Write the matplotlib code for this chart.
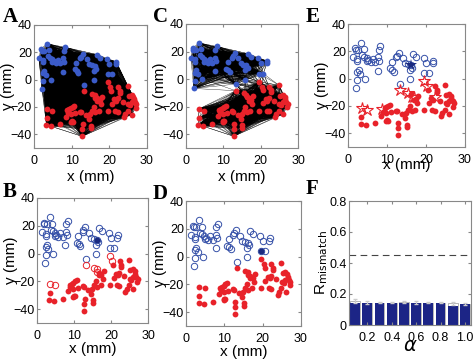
import numpy as np
import matplotlib
matplotlib.use("Agg")
import matplotlib.pyplot as plt
from matplotlib.collections import LineCollection

plt.rcParams['font.family'] = ['Liberation Sans', 'DejaVu Sans']

# electrode positions (mm)
blue_x = [3.4, 1.8, 2.6, 4.1, 8.3, 7.9, 1.3, 2.3, 2.4, 3.7, 4.2, 4.8, 5.2, 4.9, 7.0, 7.8,
          8.0, 2.7, 2.4, 3.1, 7.7, 2.4, 4.4, 2.1, 13.1, 12.5, 12.3, 11.2, 16.7, 17.5, 14.6,
          15.3, 16.1, 15.9, 11.3, 11.7, 19.4, 20.0, 21.8, 21.7, 15.9, 13.3, 19.6, 20.7,
          2.0, 6.3, 10.8, 14.0, 16.5, 5.8]
blue_y = [26.3, 22.3, 21.1, 21.5, 23.7, 21.1, 15.5, 14.3, 12.7, 17.2, 16.0, 14.8, 13.6,
          12.7, 11.9, 15.5, 13.1, 6.4, 4.7, 3.5, 5.9, -1.2, 0.0, -6.8, 19.1, 16.7, 15.5,
          12.4, 18.4, 16.0, 11.5, 10.5, 10.0, 6.4, 6.7, 5.2, 15.1, 11.5, 13.1, 11.5, -0.5,
          -3.6, 4.0, 4.0, 21.0, 14.5, 7.5, 15.0, 8.0, 12.0]
red_x = [3.5, 4.9, 3.4, 3.3, 4.6, 7.0, 8.8, 9.4, 9.8, 10.3, 10.7, 9.0, 9.8, 10.3, 9.8,
         12.6, 12.3, 13.3, 12.9, 12.8, 12.8, 14.6, 15.0, 15.0, 14.9, 15.5, 15.9, 15.5, 16.1,
         16.3, 16.8, 17.4, 16.8, 17.2, 16.3, 19.6, 20.3, 20.5, 22.3, 22.7, 22.7, 21.3, 21.8,
         22.2, 20.7, 19.6, 21.6, 22.2, 24.9, 25.2, 25.9, 26.4, 26.5, 25.0, 25.5, 25.9, 26.8,
         27.2, 27.0, 24.9, 24.2, 23.9, 11.0, 8.5, 13.8, 18.0, 23.5, 26.0, 17.8, 10.0]
red_y = [-21.6, -22.8, -28.3, -33.1, -34.1, -32.4, -22.4, -21.6, -20.9, -20.0, -19.3,
         -24.1, -25.2, -30.7, -31.2, -24.0, -23.3, -8.4, -32.4, -36.0, -41.5, -28.8, -33.6,
         -35.3, -25.2, -22.8, -20.0, -10.4, -11.3, -13.2, -13.7, -15.2, -15.6, -22.8,
         -24.0, -2.0, -5.6, -8.0, -5.6, -8.0, -9.6, -14.4, -15.6, -13.7, -17.6, -22.8,
         -22.8, -23.3, -4.4, -12.0, -11.3, -12.7, -14.4, -18.0, -18.7, -16.7, -16.7, -18.0,
         -20.4, -22.8, -25.2, -27.6, -24.5, -27.0, -26.0, -12.5, -16.0, -25.5, -18.0, -30.5]

# B: red electrodes drawn open (misassigned) and the highlighted blue one
b_open_red = [0, 1, 17, 27, 28, 29, 35, 36]
b_dark_blue = [32]
# D: highlighted blue electrode
d_dark_blue = [42]
# E: red electrodes marked with stars, and the blue star
e_star_red = [0, 1, 6, 17, 27, 29, 30, 35, 36, 43]
e_star_blue = [32]

alpha = [0.1, 0.2, 0.3, 0.4, 0.5, 0.6, 0.7, 0.8, 0.9, 1.0]
r_mismatch = [0.14, 0.145, 0.145, 0.145, 0.14, 0.14, 0.145, 0.145, 0.12, 0.135]
r_mismatch_ref = [0.155, 0.145, 0.145, 0.145, 0.15, 0.145, 0.145, 0.145, 0.14, 0.135]
r_err = [0.01, 0.007, 0.006, 0.006, 0.008, 0.007, 0.006, 0.006, 0.01, 0.006]
r_chance = 0.45

BLUE = "#3b5bc8"
BLUE_EDGE = "#3550a8"
DARK = "#1a2a80"
RED = "#e8222a"
NAVY = "#1c2586"
GREY = "#888888"

W, H = 474, 359
fig = plt.figure(figsize=(W / 100, H / 100), dpi=100)


def add_ax(l, r, t, b):
    return fig.add_axes([l / W, 1 - b / H, (r - l) / W, (b - t) / H])


def frame(ax):
    ax.tick_params(direction="in", top=True, right=True, labelsize=9,
                   length=2.5, color=GREY)
    ax.tick_params(axis="x", pad=5)
    ax.tick_params(axis="y", pad=1.5)
    for s in ax.spines.values():
        s.set_color(GREY)
        s.set_linewidth(0.8)


def style_xy(ax, xlabel_pad=2):
    ax.set_xlim(0, 30)
    ax.set_ylim(-50, 40)
    ax.set_xticks([0, 10, 20, 30])
    ax.set_yticks([-40, -20, 0, 20, 40])
    ax.set_yticklabels(["\u221240", "\u221220", "0", "20", "40"])
    frame(ax)
    ax.set_xlabel("x (mm)", fontsize=11, labelpad=xlabel_pad)
    ax.set_ylabel("y (mm)", fontsize=11, labelpad=-3)


bx, by = np.array(blue_x), np.array(blue_y)
rx, ry = np.array(red_x), np.array(red_y)
pts = np.column_stack([np.concatenate([bx, rx]), np.concatenate([by, ry])])
grp = np.array([0] * len(bx) + [1] * len(rx))


def edges(keep):
    segs = []
    for i in range(len(pts)):
        for j in range(i + 1, len(pts)):
            if keep(i, j):
                segs.append([pts[i], pts[j]])
    return segs


ms = 4.2
mso = 4.6


def filled(ax, x, y, c):
    ax.plot(x, y, "o", color=c, ms=ms, mew=0)


def hollow(ax, x, y, c):
    ax.plot(x, y, "o", mfc="none", mec=c, ms=mso, mew=0.7)


# A: full graph
axA = add_ax(34, 147, 25, 148)
axA.add_collection(LineCollection(edges(lambda i, j: True), colors="black", linewidths=0.25))
filled(axA, bx, by, BLUE)
filled(axA, rx, ry, RED)
style_xy(axA)

# C: graph after clustering
axC = add_ax(186, 298, 24, 148)


def keepC(i, j):
    if grp[i] == grp[j]:
        return True
    return np.hypot(*(pts[i] - pts[j])) < 13


axC.add_collection(LineCollection(edges(keepC), colors="black", linewidths=0.25))
filled(axC, bx, by, BLUE)
filled(axC, rx, ry, RED)
style_xy(axC)

# E: stars
axE = add_ax(348, 465, 24, 147)
hollow(axE, bx, by, BLUE_EDGE)
keep = np.ones(len(rx), bool)
keep[e_star_red] = False
filled(axE, rx[keep], ry[keep], RED)
axE.plot(rx[e_star_red], ry[e_star_red], "*", mfc="none", mec=RED, ms=9, mew=0.8)
axE.plot(bx[e_star_blue], by[e_star_blue], "*", color=DARK, ms=9, mew=0)
style_xy(axE, xlabel_pad=-6)

# B
axB = add_ax(37, 148, 198, 323)
hollow(axB, bx, by, BLUE_EDGE)
filled(axB, bx[b_dark_blue], by[b_dark_blue], DARK)
keep = np.ones(len(rx), bool)
keep[b_open_red] = False
filled(axB, rx[keep], ry[keep], RED)
hollow(axB, rx[b_open_red], ry[b_open_red], RED)
style_xy(axB, xlabel_pad=0)

# D
axD = add_ax(186, 301, 201, 326)
hollow(axD, bx, by, BLUE_EDGE)
filled(axD, bx[d_dark_blue], by[d_dark_blue], DARK)
filled(axD, rx, ry, RED)
style_xy(axD, xlabel_pad=0)

# F: mismatch vs alpha
axF = add_ax(349, 471, 201, 325)
axF.bar(alpha, r_mismatch_ref, width=0.08, color="white", edgecolor="#aaaaaa", lw=0.6)
axF.bar(alpha, r_mismatch, width=0.08, color=NAVY, edgecolor=NAVY, lw=0)
axF.errorbar(alpha, r_mismatch_ref, yerr=r_err, fmt="none", ecolor="#cccccc",
             elinewidth=0.8, capsize=1.5)
axF.axhline(r_chance, color="#444444", lw=0.8, ls=(0, (6, 4)))
axF.set_xlim(0.05, 1.05)
axF.set_ylim(0, 0.8)
axF.set_xticks([0.2, 0.4, 0.6, 0.8, 1.0])
axF.set_xticklabels(["0.2", "0.4", "0.6", "0.8", "1.0"])
axF.set_yticks([0, 0.2, 0.4, 0.6, 0.8])
axF.set_yticklabels(["0", "0.2", "0.4", "0.6", "0.8"])
frame(axF)
axF.set_xlabel(r"$\alpha$", fontsize=14, labelpad=-4)
axF.set_ylabel(r"R$_{\mathrm{mismatch}}$", fontsize=11, labelpad=0)

# panel letters
for lab, x, y in [("A", 3, 17), ("C", 153, 17), ("E", 306, 17),
                  ("B", 3, 192), ("D", 153, 194), ("F", 306, 189)]:
    fig.text(x / W, 1 - y / H, lab, fontsize=15, fontweight="bold",
             family=["Liberation Serif", "DejaVu Serif"], va="center", ha="left")

fig.savefig("out.png", dpi=100)
